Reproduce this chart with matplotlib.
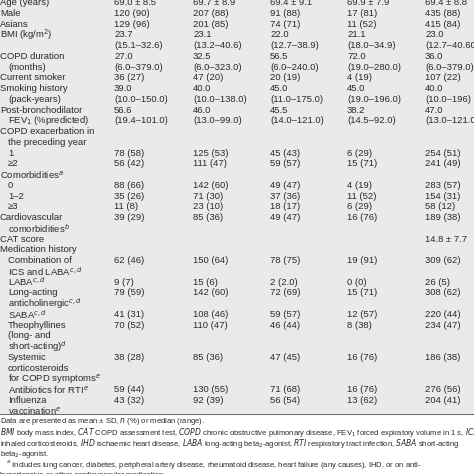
import matplotlib
matplotlib.use("Agg")
import matplotlib.pyplot as plt

labels = ["Age (years)", "Male", "Asians", "BMI (kg/m$^2$)", "", "COPD duration", ">(months)",
          "Current smoker", "Smoking history", ">(pack-years)", "Post-bronchodilator",
          ">FEV$_1$ (%predicted)", "COPD exacerbation in", ">the preceding year", ">1", ">≥2",
          "Comorbidities$^a$", ">0", ">1–2", ">≥3", "Cardiovascular", ">comorbidities$^b$",
          "CAT score", "Medication history", ">Combination of", ">ICS and LABA$^{c,d}$",
          ">LABA$^{c,d}$", ">Long-acting", ">anticholinergic$^{c,d}$", ">SABA$^{c,d}$",
          ">Theophyllines", ">(long- and", ">short-acting)$^d$", ">Systemic",
          ">corticosteroids", ">for COPD symptoms$^e$", ">Antibiotics for RTI$^e$",
          ">Influenza", ">vaccination$^e$"]

col1 = ["69.0 ± 8.5", "120 (90)", "129 (96)", "23.7", "(15.1–32.6)", "27.0", "(6.0–379.0)", "36 (27)",
        "39.0", "(10.0–150.0)", "56.6", "(19.4–101.0)", "", "", "78 (58)", "56 (42)", "", "88 (66)",
        "35 (26)", "11 (8)", "39 (29)", "", "", "", "62 (46)", "", "9 (7)", "79 (59)", "", "41 (31)",
        "70 (52)", "", "", "38 (28)", "", "", "59 (44)", "43 (32)", ""]
col2 = ["69.7 ± 8.9", "207 (88)", "201 (85)", "23.1", "(13.2–40.6)", "32.5", "(6.0–323.0)", "47 (20)",
        "40.0", "(10.0–138.0)", "46.0", "(13.0–99.0)", "", "", "125 (53)", "111 (47)", "", "142 (60)",
        "71 (30)", "23 (10)", "85 (36)", "", "", "", "150 (64)", "", "15 (6)", "142 (60)", "", "108 (46)",
        "110 (47)", "", "", "85 (36)", "", "", "130 (55)", "92 (39)", ""]
col3 = ["69.4 ± 9.1", "91 (88)", "74 (71)", "22.0", "(12.7–38.9)", "56.5", "(6.0–240.0)", "20 (19)",
        "45.0", "(11.0–175.0)", "45.5", "(14.0–121.0)", "", "", "45 (43)", "59 (57)", "", "49 (47)",
        "37 (36)", "18 (17)", "49 (47)", "", "", "", "78 (75)", "", "2 (2.0)", "72 (69)", "", "59 (57)",
        "46 (44)", "", "", "47 (45)", "", "", "71 (68)", "56 (54)", ""]
col4 = ["69.9 ± 7.9", "17 (81)", "11 (52)", "21.1", "(18.0–34.9)", "72.0", "(19.0–280.0)", "4 (19)",
        "45.0", "(19.0–196.0)", "38.2", "(14.5–92.0)", "", "", "6 (29)", "15 (71)", "", "4 (19)",
        "11 (52)", "6 (29)", "16 (76)", "", "", "", "19 (91)", "", "0 (0)", "15 (71)", "", "12 (57)",
        "8 (38)", "", "", "16 (76)", "", "", "16 (76)", "13 (62)", ""]
col5 = ["69.4 ± 8.8", "435 (88)", "415 (84)", "23.0", "(12.7–40.60)", "36.0", "(6.0–379.0)", "107 (22)",
        "40.0", "(10.0–196)", "47.0", "(13.0–121.0)", "", "", "254 (51)", "241 (49)", "", "283 (57)",
        "154 (31)", "58 (12)", "189 (38)", "", "14.8 ± 7.7", "", "309 (62)", "", "26 (5)", "308 (62)", "",
        "220 (44)", "234 (47)", "", "", "186 (38)", "", "", "276 (56)", "204 (41)", ""]

footer = ["Data are presented as mean ± SD, $n$ (%) or median (range).",
          "$BMI$ body mass index, $CAT$ COPD assessment test, $COPD$ chronic obstructive pulmonary disease, FEV$_1$ forced expiratory volume in 1 s, $ICS$",
          "inhaled corticosteroids, $IHD$ ischaemic heart disease, $LABA$ long-acting beta$_2$-agonist, $RTI$ respiratory tract infection, $SABA$ short-acting",
          "beta$_2$-agonist.",
          "$^a$ Includes lung cancer, diabetes, peripheral artery disease, rheumatoid disease, heart failure (any causes), IHD, or on anti-",
          "hypertensive or other cardiovascular medication"]

W = H = 474
fig = plt.figure(figsize=(4.74, 4.74), dpi=100)
fig.patch.set_facecolor("white")
ax = fig.add_axes([0, 0, 1, 1])
ax.set_xlim(0, W)
ax.set_ylim(H, 0)
ax.axis("off")
ax.add_patch(plt.Rectangle((0, 0), W, 414, color="#e8eaeb", zorder=0))
ax.plot([0, W], [414, 414], color="#555555", lw=0.6)

fs = 6.8
tc = "#2a2a2a"
step = 10.75
y0 = 2.7
xs = [114, 193, 270, 347, 425]
fam = "Liberation Sans"
for i, lab in enumerate(labels):
    y = y0 + step * i
    x = 0
    if lab.startswith(">"):
        lab = lab[1:]
        x = 8
    ax.text(x, y, lab, fontsize=fs, color=tc, va="center", ha="left", family=fam)
    for xc, col in zip(xs, [col1, col2, col3, col4, col5]):
        if col[i]:
            ax.text(xc, y, col[i], fontsize=fs, color=tc, va="center", ha="left", family=fam)
for j, line in enumerate(footer):
    y = y0 + step * (39 + j)
    x = 6 if j == 4 else 0
    ax.text(x, y, line, fontsize=5.5, color=tc, va="center", ha="left", family=fam)

fig.savefig("out.png", dpi=100)
